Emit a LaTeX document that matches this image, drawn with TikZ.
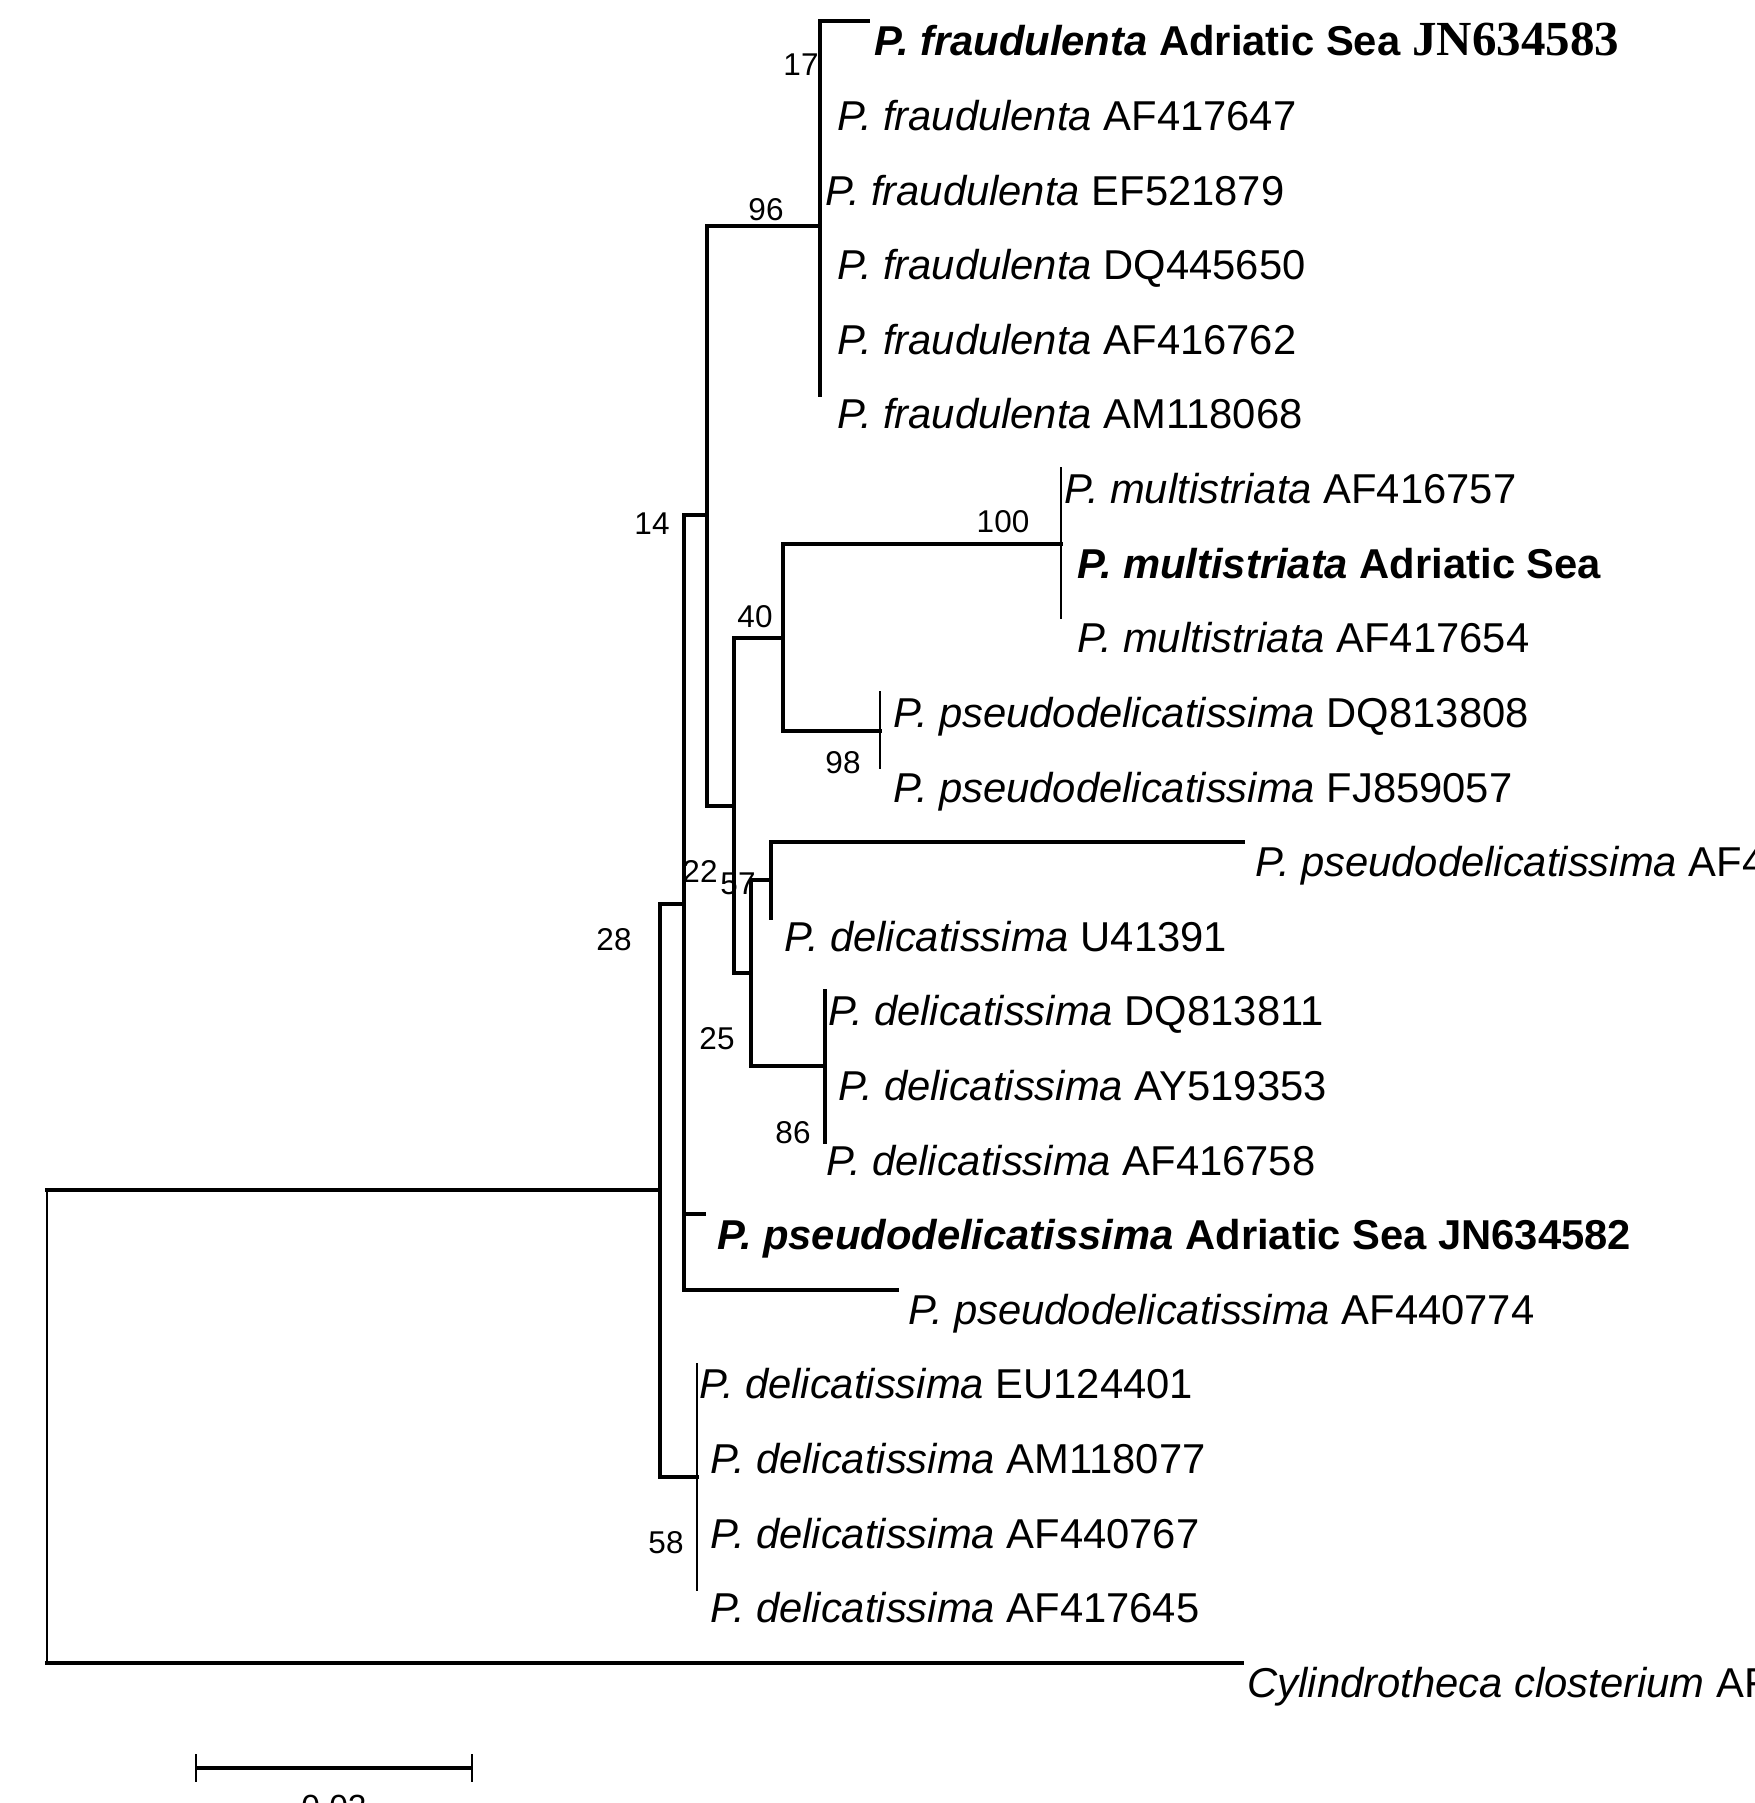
\documentclass[tikz,border=0pt]{standalone}
\usepackage{fontspec}
\setmainfont{Liberation Sans}
\newfontfamily\serifbold{Liberation Serif}
\begin{document}
\begin{tikzpicture}[x=0.4pt,y=-0.4pt,
  br/.style={line width=1.25pt,line cap=rect},
  thinbr/.style={line width=0.75pt,line cap=rect},
  leaf/.style={anchor=base west,inner sep=0pt,font=\fontsize{16.7}{18}\selectfont},
  boot/.style={inner sep=0pt,font=\fontsize{12.6}{14}\selectfont}]
\useasboundingbox (0,0) rectangle (1754,1803);
\clip (0,0) rectangle (1754,1803);
\fill[white] (0,0) rectangle (1754,1803);
% tree coordinates
\coordinate (root) at (47,1190);
\coordinate (rootb) at (47,1663);
\coordinate (cyl) at (1242,1663);
\coordinate (n28) at (660,1190);
\coordinate (n28a) at (660,904);
\coordinate (n28b) at (660,1477);
\coordinate (n22) at (684,904);
\coordinate (n22a) at (684,515);
\coordinate (n22b) at (684,1290);
\coordinate (n58) at (697,1477);
\coordinate (n58a) at (697,1364);
\coordinate (n58b) at (697,1590);
\coordinate (n14) at (707,515);
\coordinate (n14a) at (707,226);
\coordinate (n14b) at (707,806);
\coordinate (t582) at (704,1214);
\coordinate (t774) at (897,1290);
\coordinate (n96) at (820,226);
\coordinate (n96a) at (820,21);
\coordinate (n96b) at (820,395);
\coordinate (t583) at (868,21);
\coordinate (nA) at (734,806);
\coordinate (nAa) at (734,638);
\coordinate (nAb) at (734,973);
\coordinate (n40) at (783,638);
\coordinate (n40a) at (783,544);
\coordinate (n40b) at (783,731);
\coordinate (n100) at (1061,544);
\coordinate (n100a) at (1061,468);
\coordinate (n100b) at (1061,618);
\coordinate (n98) at (880,731);
\coordinate (n98a) at (880,692);
\coordinate (n98b) at (880,768);
\coordinate (n25) at (751,973);
\coordinate (n25a) at (751,880);
\coordinate (n25b) at (751,1066);
\coordinate (n57) at (771,880);
\coordinate (n57a) at (771,842);
\coordinate (n57b) at (771,918);
\coordinate (tAF4) at (1243,842);
\coordinate (n86) at (825,1066);
\coordinate (n86a) at (825,991);
\coordinate (n86b) at (825,1142);
% branches
\draw[line width=0.9pt] (root) -- (rootb);
\draw[br] (root) -- (n28);
\draw[br] (rootb) -- (cyl);
\draw[br] (n28a) -- (n28b);
\draw[br] (n28 |- n22) -- (n22);
\draw[br] (n28 |- n58) -- (n58);
\draw[br] (n22a) -- (n22b);
\draw[br] (n22 |- n14) -- (n14);
\draw[br] (n22 |- t582) -- (t582);
\draw[br] (n22 |- t774) -- (t774);
\draw[thinbr] (n58a) -- (n58b);
\draw[br] (n14a) -- (n14b);
\draw[br] (n14 |- n96) -- (n96);
\draw[br] (n14 |- nA) -- (nA);
\draw[br] (n96a) -- (n96b);
\draw[br] (n96a) -- (t583);
\draw[br] (nAa) -- (nAb);
\draw[br] (nA |- n40) -- (n40);
\draw[br] (nA |- n25) -- (n25);
\draw[br] (n40a) -- (n40b);
\draw[br] (n40 |- n100) -- (n100);
\draw[br] (n40 |- n98) -- (n98);
\draw[thinbr] (n100a) -- (n100b);
\draw[thinbr] (n98a) -- (n98b);
\draw[br] (n25a) -- (n25b);
\draw[br] (n25 |- n57) -- (n57);
\draw[br] (n25 |- n86) -- (n86);
\draw[br] (n57a) -- (n57b);
\draw[br] (n57a) -- (tAF4);
\draw[br] (n86a) -- (n86b);
% bootstrap values
\node[boot] (b17) at (801,65) {17};
\node[boot] (b96) at (766,210) {96};
\node[boot] (b14) at (652,524) {14};
\node[boot] (b100) at (1003,522) {100};
\node[boot] (b40) at (755,617) {40};
\node[boot] (b98) at (843,763) {98};
\node[boot] (b22) at (700,871) {22};
\node[boot] (b57) at (738,884) {57};
\node[boot] (b28) at (614,940) {28};
\node[boot] (b25) at (717,1039) {25};
\node[boot] (b86) at (793,1133) {86};
\node[boot] (b58) at (666,1543) {58};
% leaf labels
\node[leaf] (l0) at (874,56) {\textbf{\textit{P. fraudulenta} Adriatic Sea} {\serifbold\bfseries\fontsize{19.6}{21}\selectfont JN634583}};
\node[leaf] (l1) at (837,130.6) {\textit{P. fraudulenta} AF417647};
\node[leaf] (l2) at (825,205.2) {\textit{P. fraudulenta} EF521879};
\node[leaf] (l3) at (837,279.8) {\textit{P. fraudulenta} DQ445650};
\node[leaf] (l4) at (837,354.4) {\textit{P. fraudulenta} AF416762};
\node[leaf] (l5) at (837,429) {\textit{P. fraudulenta} AM118068};
\node[leaf] (l6) at (1064,503.6) {\textit{P. multistriata} AF416757};
\node[leaf] (l7) at (1077,578.2) {\textbf{\textit{P. multistriata} Adriatic Sea}};
\node[leaf] (l8) at (1077,652.8) {\textit{P. multistriata} AF417654};
\node[leaf] (l9) at (893,727.4) {\textit{P. pseudodelicatissima} DQ813808};
\node[leaf] (l10) at (893,802) {\textit{P. pseudodelicatissima} FJ859057};
\node[leaf] (l11) at (1255,876.6) {\textit{P. pseudodelicatissima} AF4};
\node[leaf] (l12) at (784,951.2) {\textit{P. delicatissima} U41391};
\node[leaf] (l13) at (828,1025.8) {\textit{P. delicatissima} DQ813811};
\node[leaf] (l14) at (838,1100.4) {\textit{P. delicatissima} AY519353};
\node[leaf] (l15) at (826,1175) {\textit{P. delicatissima} AF416758};
\node[leaf] (l16) at (717,1249.6) {\textbf{\textit{P. pseudodelicatissima} Adriatic Sea JN634582}};
\node[leaf] (l17) at (908,1324.2) {\textit{P. pseudodelicatissima} AF440774};
\node[leaf] (l18) at (699,1398.8) {\textit{P. delicatissima} EU124401};
\node[leaf] (l19) at (710,1473.4) {\textit{P. delicatissima} AM118077};
\node[leaf] (l20) at (710,1548) {\textit{P. delicatissima} AF440767};
\node[leaf] (l21) at (710,1622.6) {\textit{P. delicatissima} AF417645};
\node[leaf] (l22) at (1247,1697.2) {\textit{Cylindrotheca closterium} AF};
% scale bar
\coordinate (sb1) at (196,1768);
\coordinate (sb2) at (472,1768);
\draw[br,line cap=butt] (sb1) -- (sb2);
\draw[line width=0.9pt] ([yshift=5.6pt]sb1) -- ([yshift=-5.6pt]sb1);
\draw[line width=0.9pt] ([yshift=5.6pt]sb2) -- ([yshift=-5.6pt]sb2);
\node[boot,anchor=north,font=\fontsize{13.4}{15}\selectfont] (sblab) at (334,1795) {0.02};
\end{tikzpicture}
\end{document}
